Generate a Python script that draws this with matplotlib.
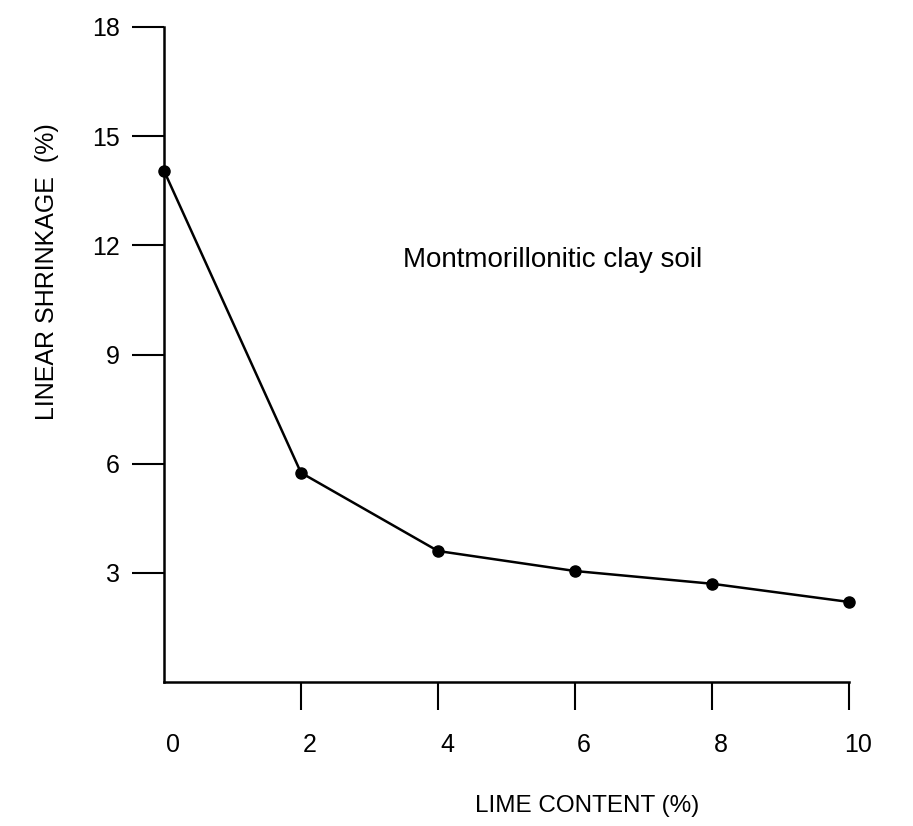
import matplotlib
matplotlib.use("Agg")
import matplotlib.pyplot as plt
import matplotlib.transforms as mtransforms

# lime content (%) and linear shrinkage (%)
lime = [0, 2, 4, 6, 8, 10]
shrinkage = [14.05, 5.75, 3.6, 3.05, 2.7, 2.2]

x_ticks = [0, 2, 4, 6, 8, 10]
y_ticks = [3, 6, 9, 12, 15, 18]

plt.rcParams['font.family'] = ['Liberation Sans', 'DejaVu Sans']

fig = plt.figure(figsize=(9.13, 8.26), dpi=100)
ax = fig.add_axes([164 / 913, 1 - 682 / 826, (849 - 164) / 913, (682 - 27) / 826])

ax.plot(lime, shrinkage, color='black', lw=1.8, marker='o', markersize=8,
        clip_on=False)

ax.set_xlim(0, 10)
ax.set_ylim(0, 18)

for side in ['top', 'right']:
    ax.spines[side].set_visible(False)
for side in ['left', 'bottom']:
    ax.spines[side].set_linewidth(1.8)

ax.set_xticks(x_ticks)
ax.set_yticks(y_ticks)
ax.tick_params(axis='x', direction='out', length=20, width=1.5, pad=17, labelsize=18)
ax.tick_params(axis='y', direction='out', length=23, width=1.5, pad=9, labelsize=18)
ax.xaxis.get_major_ticks()[0].tick1line.set_visible(False)

# labels sit a little to the right of their ticks
offset = mtransforms.ScaledTranslation(9 / 100, 0, fig.dpi_scale_trans)
for lbl in ax.get_xticklabels():
    lbl.set_transform(lbl.get_transform() + offset)

fig.text(47 / 913, 1 - 272 / 826, 'LINEAR SHRINKAGE  (%)', rotation=90,
         ha='center', va='center', fontsize=18)
fig.text(587 / 913, 1 - 806 / 826, 'LIME CONTENT (%)', ha='center',
         va='center', fontsize=17.5)

ax.text(3.49, 11.6, 'Montmorillonitic clay soil', ha='left', va='center',
        fontsize=20)

fig.savefig('out.png', dpi=100)
